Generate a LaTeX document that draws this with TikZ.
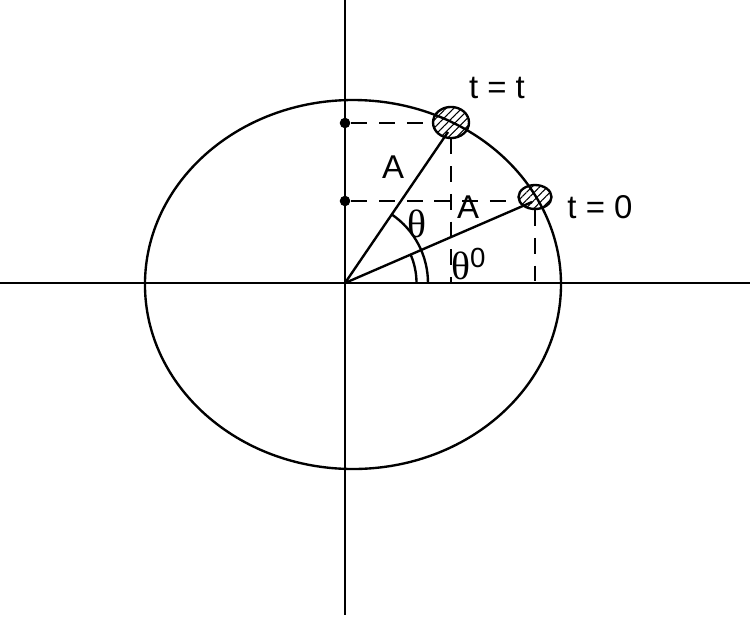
\documentclass[tikz,border=0pt]{standalone}
\usepackage{fontspec}
\setmainfont{Liberation Sans}
\newfontfamily\greekfont{Liberation Serif}
\usepackage{tikz}
\usetikzlibrary{arrows.meta,
	calc,
	patterns.meta,
	shapes}

\begin{document}
\begin{tikzpicture}[line width=1.8pt]
    \tikzstyle{dot}=[circle,fill=black,minimum size=8pt,inner sep=0pt]
    \tikzstyle{particle}=[ellipse,draw,line width=1.8pt,pattern={Lines[angle=45,distance=4.2pt,line width=0.8pt]},inner sep=0pt]
    \tikzstyle{projection}=[dashed,dash pattern=on 12pt off 9pt]
    \tikzstyle{label}=[font=\fontsize{25}{30}\selectfont,inner sep=0pt]
    \tikzstyle{angle}=[font=\fontsize{30}{34}\selectfont\greekfont,inner sep=0pt]
    \useasboundingbox (-9.2,-8.907) rectangle (10.8,7.547);
    \coordinate (O) at (0,0);
    % axes
    \coordinate (x_l) at (-9.2,0);
    \coordinate (x_r) at (10.8,0);
    \coordinate (y_t) at (0,7.547);
    \coordinate (y_b) at (0,-8.853);
    \draw (x_l) -- (x_r);
    \draw (y_t) -- (y_b);
    % orbit
    \draw (0.213,-0.04) ellipse [x radius=5.547,y radius=4.92];
    % particles
    \node[particle,minimum width=0.96cm,minimum height=0.83cm] (p_t) at (2.827,4.28) {};
    \node[particle,minimum width=0.88cm,minimum height=0.64cm] (p_0) at (5.067,2.293) {};
    \coordinate (r_t) at (2.747,4.027);
    \coordinate (r_0) at (4.987,2.16);
    \draw (O) -- (r_t);
    \draw (O) -- (r_0);
    % projections
    \node[dot] (d_t) at (0,4.267) {};
    \node[dot] (d_0) at (0,2.187) {};
    \draw[projection] (d_t) -- (d_t -| p_t.west);
    \draw[projection] (d_0) -- (d_0 -| p_0.west);
    \draw[projection] (p_t.south) -- (p_t.south |- O);
    \draw[projection] (p_0.south) -- (p_0.south |- O);
    % angles
    \draw ($(O)+(2.213,0)$) arc[start angle=0,end angle=55.7,radius=2.213];
    \draw ($(O)+(1.907,0)$) arc[start angle=0,end angle=23.4,radius=1.907];
    % labels
    \node[label] (l_t) at (4.053,5.2) {t = t};
    \node[label] (l_0) at (6.8,2.027) {t = 0};
    \node[label] (a_t) at (1.28,3.093) {A};
    \node[label] (a_0) at (3.28,2.027) {A};
    \node[angle] (th) at (1.92,1.573) {θ};
    \node[angle] (th_0) at (3.3,0.5) {θ\textsuperscript{\normalfont 0}};
\end{tikzpicture}
\end{document}
